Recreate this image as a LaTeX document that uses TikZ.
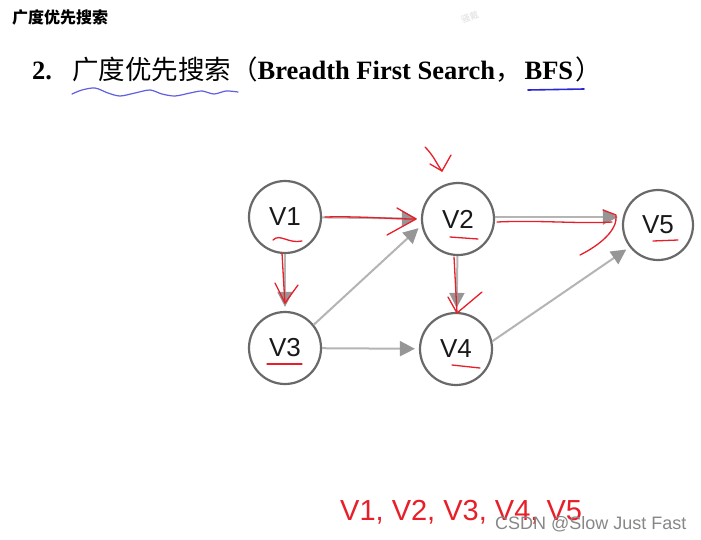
\documentclass[tikz,border=0pt]{standalone}
\usepackage{fontspec}
\setmainfont{Liberation Serif}
\newfontfamily\cjk{Noto Sans CJK SC}
\newfontfamily\vfont{Liberation Sans}
\usetikzlibrary{arrows.meta}
\definecolor{ringgray}{RGB}{105,105,105}
\definecolor{edgegray}{RGB}{180,180,180}
\definecolor{tipgray}{RGB}{150,150,150}
\definecolor{penred}{RGB}{232,30,40}
\definecolor{penblue}{RGB}{95,95,225}
\definecolor{markblue}{RGB}{40,40,215}
\definecolor{wmgray}{RGB}{135,135,135}

\begin{document}
\begin{tikzpicture}[x=1pt,y=-1pt,
  vertex/.style={circle,draw=ringgray,line width=2.2pt,fill=white,minimum size=72pt,inner sep=0pt,
    text=black!90,font=\vfont\fontsize{26}{26}\selectfont},
  edge/.style={draw=edgegray,line width=2pt,shorten >=4pt,-{Triangle[length=15pt,width=15pt,color=tipgray]}},
  redpen/.style={draw=penred,line width=1.3pt,line cap=round,line join=round}]
\fill[white] (0,0) rectangle (701,539);
\useasboundingbox (0,0) rectangle (701,539);

% titles
\node[anchor=west,inner sep=0pt,font=\cjk\bfseries\fontsize{16}{16}\selectfont] (tab) at (12,17) {广度优先搜索};
\node[rotate=20,inner sep=0pt,text=black!12,font=\cjk\fontsize{9}{9}\selectfont] (stamp) at (470,17) {骚戴};
\node[anchor=base west,inner sep=0pt,font=\fontsize{26.5}{30}\selectfont] (heading) at (32,79)
  {\textbf{2.}\hspace{20pt}{\cjk 广度优先搜索（}\textbf{Breadth First Search}{\cjk ，}\hspace{3pt}\textbf{BFS}\hspace{2pt}{\cjk ）}};
\draw[penblue,line width=1.2pt,line cap=round] plot[smooth] coordinates
  {(72,94) (82,90) (95,88) (108,93) (120,96) (135,93) (150,90) (162,94) (175,96) (190,93) (202,91) (214,94) (226,91) (238,92)};
\draw[markblue,line width=1.6pt,line cap=round] (528,90) -- (584,89);

% graph
\node[vertex] (V1) at (285,217) {V1};
\node[vertex] (V2) at (458,219) {V2};
\node[vertex] (V3) at (285,348) {V3};
\node[vertex] (V4) at (456,349) {V4};
\node[vertex,minimum size=70pt] (V5) at (658,225) {V5};

\draw[edge] (V1) -- (V2);
\draw[edge] (V1) -- (V3);
\draw[edge] (V3.39) -- (V2.190);
\draw[edge] (V3) -- (V4);
\draw[edge] (V2) -- (V4);
\draw[edge] (V2.3) -- (V2.3 -| V5.west);
\draw[edge] (V4.12) -- (V5.218);

% red pen marks
\draw[redpen] (325,217) .. controls (360,216) and (390,219) .. (415,219);
\draw[redpen] (397,208) -- (416,219) -- (387,235);
\draw[redpen] (282,253) .. controls (283,270) and (284,290) .. (285,303);
\draw[redpen] (275,283) -- (285,303) -- (298,285);
\draw[redpen] (454,257) .. controls (455,275) and (456,295) .. (457,313);
\draw[redpen] (448,297) -- (457,313) -- (482,292);
\draw[redpen] (497,222) .. controls (540,220) and (580,224) .. (612,222);
\draw[redpen] (603,210) -- (616,215) .. controls (618,230) and (600,245) .. (580,255);
\draw[redpen] (425,147) .. controls (434,156) and (436,163) .. (442,171) -- (451,155);
\draw[redpen] (430,164) -- (442,171);
\draw[redpen] (273,240) .. controls (280,233) and (288,244) .. (302,241);
\draw[redpen] (450,237) -- (478,239);
\draw[redpen] (267,364) -- (302,364);
\draw[redpen] (452,365) -- (480,368);
\draw[redpen] (653,241) -- (678,240);

\node[anchor=base west,inner sep=0pt,text=penred,font=\vfont\fontsize{29}{29}\selectfont] (order) at (340,520) {V1, V2, V3, V4, V5};
\node[anchor=base west,inner sep=0pt,text=wmgray,font=\vfont\fontsize{18}{18}\selectfont] (credit) at (495,529) {CSDN @Slow Just Fast};
\end{tikzpicture}
\end{document}
